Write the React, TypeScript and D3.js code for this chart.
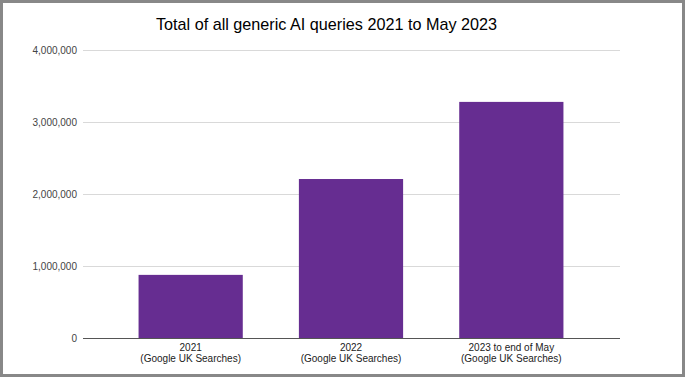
import React from "react";
import * as d3 from "d3";

const categories: string[][] = [
  ["2021", "(Google UK Searches)"],
  ["2022", "(Google UK Searches)"],
  ["2023 to end of May", "(Google UK Searches)"],
];
const values: number[] = [880000, 2210000, 3280000];
const yTicks: number[] = [0, 1000000, 2000000, 3000000, 4000000];
const title = "Total of all generic AI queries 2021 to May 2023";

const W = 685;
const H = 377;

export default function App() {
  const y = d3.scaleLinear().domain([0, 4000000]).range([338.3, 50]);
  const x = d3
    .scaleBand<number>()
    .domain(d3.range(categories.length))
    .range([110.5, 591.5])
    .paddingInner(0.35)
    .paddingOuter(0.175);
  const fmt = d3.format(",");
  const gridX0 = 83;
  const gridX1 = 620;
  const font = "Arial, 'Liberation Sans', sans-serif";
  return (
    <svg
      width={W}
      height={H}
      style={{ position: "fixed", left: 0, top: 0, display: "block" }}
      fontFamily={font}
    >
      <rect x={0} y={0} width={W} height={H} fill="#888888" />
      <rect x={3} y={3} width={679} height={371} fill="#ffffff" />
      <text x={326.5} y={30} textAnchor="middle" fontSize={16.2} fill="#000">
        {title}
      </text>
      {yTicks.map((t) => (
        <g key={t}>
          {t !== 0 && (
            <line
              x1={gridX0}
              x2={gridX1}
              y1={Math.round(y(t)) + 0.5}
              y2={Math.round(y(t)) + 0.5}
              stroke="#d9d9d9"
              strokeWidth={1}
            />
          )}
          <text
            x={77}
            y={y(t)}
            dy="0.35em"
            textAnchor="end"
            fontSize={10}
            fill="#444"
          >
            {fmt(t)}
          </text>
        </g>
      ))}
      {values.map((v, i) => (
        <rect
          key={i}
          x={x(i)}
          y={y(v)}
          width={x.bandwidth()}
          height={y(0) - y(v)}
          fill="#662d91"
        />
      ))}
      <line
        x1={gridX0}
        x2={gridX1}
        y1={338.5}
        y2={338.5}
        stroke="#555"
        strokeWidth={1}
      />
      {categories.map((c, i) => (
        <text
          key={i}
          x={(x(i) as number) + x.bandwidth() / 2}
          y={351}
          textAnchor="middle"
          fontSize={10}
          fill="#222"
        >
          {c.map((line, j) => (
            <tspan key={j} x={(x(i) as number) + x.bandwidth() / 2} dy={j === 0 ? 0 : 11}>
              {line}
            </tspan>
          ))}
        </text>
      ))}
    </svg>
  );
}
